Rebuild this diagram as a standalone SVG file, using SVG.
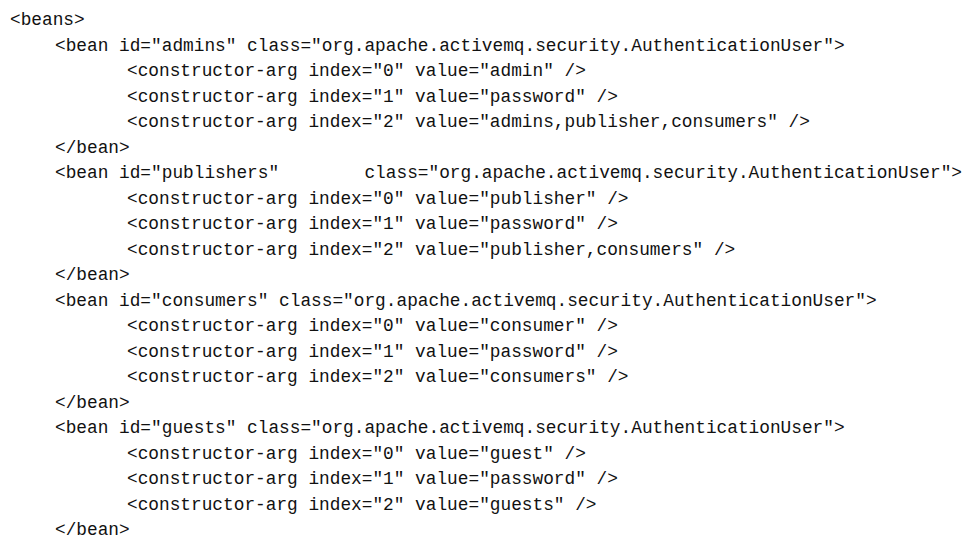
<svg xmlns="http://www.w3.org/2000/svg" width="965" height="548" viewBox="0 0 965 548">
<style>
text{font-family:"Liberation Mono","DejaVu Sans Mono",monospace;font-size:17.8px;fill:#111;white-space:pre}
</style>
<rect width="965" height="548" fill="#fff"/>
<g id="code">
<text x="10" y="25">&lt;beans&gt;</text>
<text x="55" y="50.5">&lt;bean id="admins" class="org.apache.activemq.security.AuthenticationUser"&gt;</text>
<text x="127" y="76">&lt;constructor-arg index="0" value="admin" /&gt;</text>
<text x="127" y="101.5">&lt;constructor-arg index="1" value="password" /&gt;</text>
<text x="127" y="127">&lt;constructor-arg index="2" value="admins,publisher,consumers" /&gt;</text>
<text x="55" y="152.5">&lt;/bean&gt;</text>
<text x="55" y="178" xml:space="preserve">&lt;bean id="publishers"        class="org.apache.activemq.security.AuthenticationUser"&gt;</text>
<text x="127" y="203.5">&lt;constructor-arg index="0" value="publisher" /&gt;</text>
<text x="127" y="229">&lt;constructor-arg index="1" value="password" /&gt;</text>
<text x="127" y="254.5">&lt;constructor-arg index="2" value="publisher,consumers" /&gt;</text>
<text x="55" y="280">&lt;/bean&gt;</text>
<text x="55" y="305.5">&lt;bean id="consumers" class="org.apache.activemq.security.AuthenticationUser"&gt;</text>
<text x="127" y="331">&lt;constructor-arg index="0" value="consumer" /&gt;</text>
<text x="127" y="356.5">&lt;constructor-arg index="1" value="password" /&gt;</text>
<text x="127" y="382">&lt;constructor-arg index="2" value="consumers" /&gt;</text>
<text x="55" y="407.5">&lt;/bean&gt;</text>
<text x="55" y="433">&lt;bean id="guests" class="org.apache.activemq.security.AuthenticationUser"&gt;</text>
<text x="127" y="458.5">&lt;constructor-arg index="0" value="guest" /&gt;</text>
<text x="127" y="484">&lt;constructor-arg index="1" value="password" /&gt;</text>
<text x="127" y="509.5">&lt;constructor-arg index="2" value="guests" /&gt;</text>
<text x="55" y="535">&lt;/bean&gt;</text>
</g>
</svg>
